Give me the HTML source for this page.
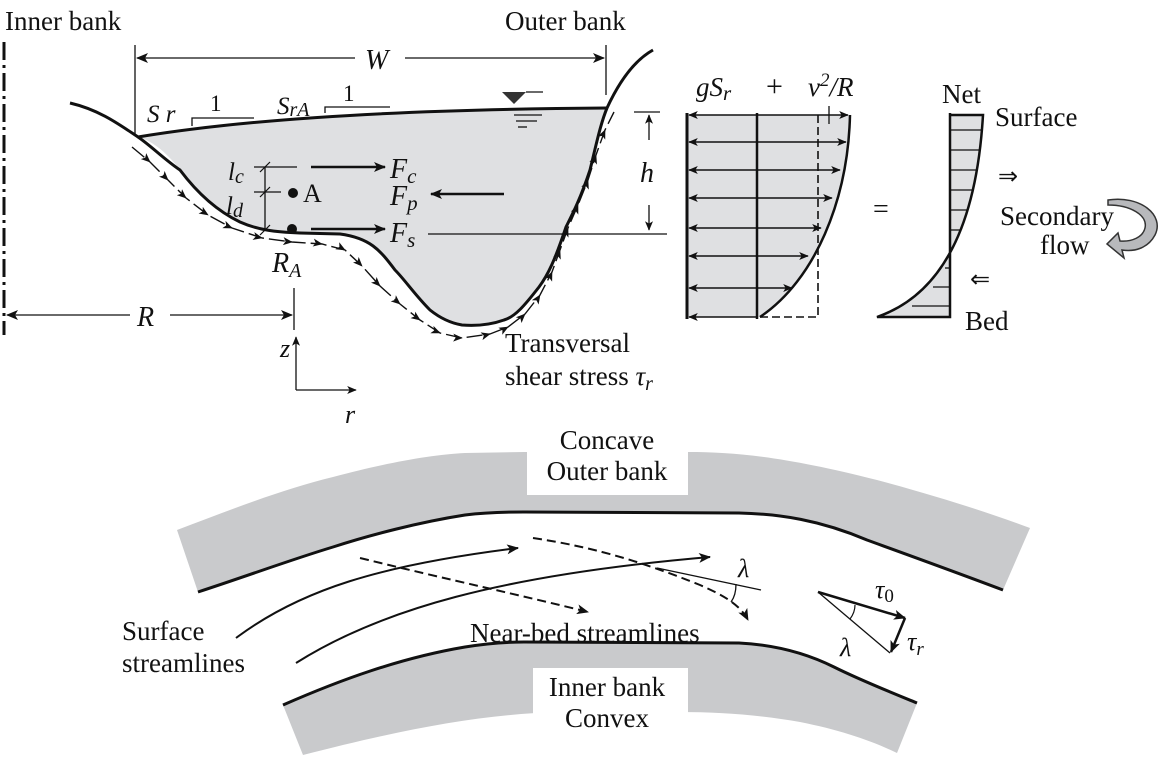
<!DOCTYPE html>
<html><head><meta charset="utf-8"><style>
html,body{margin:0;padding:0;background:#fff}
svg{display:block}
text{font-family:"Liberation Serif",serif;fill:#111}
.i{font-style:italic}
</style></head><body>
<svg width="1165" height="757" viewBox="0 0 1165 757" xmlns="http://www.w3.org/2000/svg">
<defs>
<marker id="ah" viewBox="0 0 12 10" refX="11" refY="5" markerWidth="12" markerHeight="10" markerUnits="userSpaceOnUse" orient="auto"><path d="M0,0 L12,5 L0,10 L3,5 Z" fill="#111"/></marker>
<marker id="as" viewBox="0 0 12 10" refX="11" refY="5" markerWidth="10" markerHeight="8" markerUnits="userSpaceOnUse" orient="auto"><path d="M0,0 L12,5 L0,10 L3,5 Z" fill="#111"/></marker>
</defs>

<line x1="4" y1="42" x2="4" y2="335" stroke="#111" stroke-width="3" stroke-dasharray="18 5 3 5"/>

<text x="5" y="30" font-size="27">Inner bank</text>
<text x="505" y="30" font-size="27">Outer bank</text>

<line x1="135" y1="45" x2="135" y2="135" stroke="#111" stroke-width="1.3"/>
<line x1="606" y1="45" x2="606" y2="95" stroke="#111" stroke-width="1.3"/>
<line x1="355" y1="58" x2="137" y2="58" stroke="#111" stroke-width="1.3" marker-end="url(#ah)"/>
<line x1="405" y1="58" x2="604" y2="58" stroke="#111" stroke-width="1.3" marker-end="url(#ah)"/>
<text x="365" y="69" font-size="28" class="i">W</text>

<path d="M138,137 Q300,110 607,108 C600,125 595,150 590,170 C580,200 572,215 566,227 C555,260 548,275 539,287 C525,305 515,317 504,320 C490,325 475,326 462,325 C450,323 440,318 430,310 C415,295 405,280 395,270 C380,250 370,238 340,234 L300,233 C275,232 258,230 240,222 C215,210 195,190 180,170 C165,150 150,140 138,137 Z" fill="#dfe0e2"/>
<path d="M70,103 C100,110 120,125 138,137 C150,145 165,160 180,170 C195,190 215,210 240,222 C258,230 275,232 300,233 L340,234 C370,238 380,250 395,270 C405,280 415,295 430,310 C440,318 450,323 462,325 C475,326 490,325 504,320 C515,317 525,305 539,287 C548,275 555,260 566,227 C572,215 580,200 590,170 C595,150 600,125 607,108 C620,80 635,60 653,50" fill="none" stroke="#111" stroke-width="3"/>
<path d="M138,137 Q300,110 607,108" fill="none" stroke="#111" stroke-width="3"/>
<polyline points="132,147 150,162 168,180 186,198 208,215 232,228 262,238 292,242 322,244 345,250 362,266 380,286 400,304 420,320 440,333 462,338 490,334 508,327 525,314 540,295 552,272 560,250 568,228 578,205 588,180 596,155 605,130 614,112" fill="none" stroke="#111" stroke-width="1.4" stroke-dasharray="16 5" marker-mid="url(#as)"/>

<text x="147" y="122" font-size="25" class="i">S r</text>
<polyline points="192,126 192,118 254,118" fill="none" stroke="#111" stroke-width="1.3"/>
<text x="210" y="111" font-size="23">1</text>
<text x="277" y="114" font-size="25" class="i">S<tspan font-size="20" dy="2">rA</tspan></text>
<polyline points="325,113 325,107 390,107" fill="none" stroke="#111" stroke-width="1.3"/>
<text x="343" y="101" font-size="23">1</text>
<path d="M502,92 L526,92 L514,104 Z" fill="#333"/>
<line x1="526" y1="92" x2="543" y2="92" stroke="#111" stroke-width="1.3"/>
<line x1="514" y1="115" x2="542" y2="115" stroke="#111" stroke-width="1.3"/>
<line x1="516" y1="121" x2="537" y2="121" stroke="#111" stroke-width="1.3"/>
<line x1="518" y1="127" x2="527" y2="127" stroke="#111" stroke-width="1.3"/>

<line x1="254" y1="167" x2="297" y2="167" stroke="#111" stroke-width="1.3"/>
<line x1="254" y1="192" x2="281" y2="192" stroke="#111" stroke-width="1.3"/>
<line x1="265" y1="167" x2="265" y2="230" stroke="#111" stroke-width="1.3"/>
<line x1="260" y1="172" x2="270" y2="162" stroke="#111" stroke-width="1.2"/>
<line x1="260" y1="197" x2="270" y2="187" stroke="#111" stroke-width="1.2"/>
<line x1="260" y1="235" x2="270" y2="225" stroke="#111" stroke-width="1.2"/>
<text x="228" y="180" font-size="25" class="i">l<tspan font-size="20" dy="3">c</tspan></text>
<text x="226" y="214" font-size="25" class="i">l<tspan font-size="20" dy="3">d</tspan></text>
<circle cx="293" cy="193" r="5" fill="#111"/>
<text x="303" y="202" font-size="26">A</text>
<circle cx="292" cy="229" r="5" fill="#111"/>
<line x1="311" y1="167" x2="385" y2="167" stroke="#111" stroke-width="2.5" marker-end="url(#ah)"/>
<line x1="504" y1="194" x2="431" y2="194" stroke="#111" stroke-width="2.5" marker-end="url(#ah)"/>
<line x1="311" y1="229" x2="385" y2="229" stroke="#111" stroke-width="2.5" marker-end="url(#ah)"/>
<text x="390" y="178" font-size="28" class="i">F<tspan font-size="21" dy="5">c</tspan></text>
<text x="390" y="205" font-size="28" class="i">F<tspan font-size="21" dy="5">p</tspan></text>
<text x="390" y="242" font-size="28" class="i">F<tspan font-size="21" dy="5">s</tspan></text>
<text x="272" y="272" font-size="28" class="i">R<tspan font-size="20" dy="5">A</tspan></text>

<line x1="428" y1="234" x2="667" y2="234" stroke="#111" stroke-width="1.3"/>
<line x1="634" y1="112" x2="660" y2="112" stroke="#111" stroke-width="1.3"/>
<line x1="649" y1="140" x2="649" y2="115" stroke="#111" stroke-width="1.3" marker-end="url(#as)"/>
<line x1="649" y1="205" x2="649" y2="230" stroke="#111" stroke-width="1.3" marker-end="url(#as)"/>
<text x="640" y="182" font-size="28" class="i">h</text>

<line x1="294" y1="288" x2="294" y2="330" stroke="#111" stroke-width="1.3"/>
<line x1="130" y1="315" x2="7" y2="315" stroke="#111" stroke-width="1.3" marker-end="url(#ah)"/>
<line x1="170" y1="315" x2="292" y2="315" stroke="#111" stroke-width="1.3" marker-end="url(#ah)"/>
<text x="137" y="326" font-size="28" class="i">R</text>

<text x="280" y="357" font-size="26" class="i">z</text>
<line x1="296" y1="390" x2="296" y2="337" stroke="#111" stroke-width="1.3" marker-end="url(#as)"/>
<line x1="296" y1="390" x2="356" y2="390" stroke="#111" stroke-width="1.3" marker-end="url(#as)"/>
<text x="345" y="423" font-size="26" class="i">r</text>
<text x="505" y="352" font-size="27">Transversal</text>
<text x="505" y="385" font-size="27">shear stress <tspan class="i">τ</tspan><tspan class="i" font-size="20" dy="5">r</tspan></text>

<path d="M687,115 L850,115 C848,200 815,280 760,317 L687,317 Z" fill="#dfe0e2"/>
<line x1="687" y1="113" x2="687" y2="319" stroke="#111" stroke-width="3"/>
<line x1="757" y1="113" x2="757" y2="319" stroke="#111" stroke-width="2.5"/>
<line x1="818" y1="115" x2="818" y2="317" stroke="#111" stroke-width="1.6" stroke-dasharray="8 4"/>
<line x1="760" y1="317" x2="818" y2="317" stroke="#111" stroke-width="1.6" stroke-dasharray="8 4"/>
<path d="M850,115 C848,200 815,280 760,317" fill="none" stroke="#111" stroke-width="2.5"/>
<line x1="829" y1="106" x2="829" y2="124" stroke="#111" stroke-width="1.3"/>
<g stroke="#111" stroke-width="1.5">
<line x1="757" y1="115" x2="689" y2="115" marker-end="url(#as)"/><line x1="757" y1="115" x2="848" y2="115" marker-end="url(#as)"/>
<line x1="757" y1="142" x2="689" y2="142" marker-end="url(#as)"/><line x1="757" y1="142" x2="846" y2="142" marker-end="url(#as)"/>
<line x1="757" y1="170" x2="689" y2="170" marker-end="url(#as)"/><line x1="757" y1="170" x2="840" y2="170" marker-end="url(#as)"/>
<line x1="757" y1="198" x2="689" y2="198" marker-end="url(#as)"/><line x1="757" y1="198" x2="832" y2="198" marker-end="url(#as)"/>
<line x1="757" y1="228" x2="689" y2="228" marker-end="url(#as)"/><line x1="757" y1="228" x2="821" y2="228" marker-end="url(#as)"/>
<line x1="757" y1="256" x2="689" y2="256" marker-end="url(#as)"/><line x1="757" y1="256" x2="808" y2="256" marker-end="url(#as)"/>
<line x1="757" y1="288" x2="689" y2="288" marker-end="url(#as)"/><line x1="757" y1="288" x2="792" y2="288" marker-end="url(#as)"/>
<line x1="757" y1="317" x2="689" y2="317" marker-end="url(#as)"/>
</g>
<text x="696" y="96" font-size="27" class="i">gS<tspan font-size="21" dy="4">r</tspan></text>
<text x="766" y="96" font-size="30">+</text>
<text x="808" y="96" font-size="27" class="i">v<tspan font-size="19" dy="-10">2</tspan><tspan dy="10">/R</tspan></text>
<text x="873" y="218" font-size="28">=</text>

<path d="M950,115 L983,115 C978,200 955,290 877,317 L950,317 Z" fill="#dfe0e2"/>
<g stroke="#111" stroke-width="1.3">
<line x1="950" y1="130" x2="982" y2="130"/><line x1="950" y1="150" x2="980" y2="150"/><line x1="950" y1="170" x2="977" y2="170"/><line x1="950" y1="190" x2="973" y2="190"/><line x1="950" y1="210" x2="967" y2="210"/><line x1="950" y1="230" x2="960" y2="230"/><line x1="945" y1="268" x2="950" y2="268"/><line x1="933" y1="287" x2="950" y2="287"/><line x1="912" y1="306" x2="950" y2="306"/>
</g>
<path d="M950,113 L950,317 L877,317 C955,290 978,200 983,115 L950,115" fill="none" stroke="#111" stroke-width="2.5"/>
<text x="942" y="103" font-size="27">Net</text>
<text x="995" y="126" font-size="27">Surface</text>
<text x="998" y="184" font-size="24">⇒</text>
<text x="1000" y="225" font-size="27">Secondary</text>
<text x="1040" y="254" font-size="27">flow</text>
<text x="970" y="287" font-size="24">⇐</text>
<text x="965" y="330" font-size="27">Bed</text>
<path d="M1108,200 C1140,195 1165,215 1155,235 C1148,248 1135,252 1122,250 L1124,258 L1107,244 L1118,233 L1120,241 C1132,242 1143,237 1145,228 C1148,215 1130,205 1108,205 Z" fill="#b8b9bc" stroke="#333" stroke-width="1.5"/>

<path d="M177,530 C230,510 280,490 333,477 C390,462 430,455 465,453 L524,452 L688,452 C740,452 790,458 877,480 C940,497 990,513 1030,528 L1003,590 C950,570 900,550 867,540 C820,520 780,514 739,513 L524,512 C510,512 490,512 465,515 C420,522 370,535 333,547 C290,560 250,575 198,592 Z" fill="#c9cacc"/>
<path d="M198,592 C250,575 290,560 333,547 C370,535 420,522 465,515 C490,512 510,512 524,512 L739,513 C780,514 820,520 867,540 C900,552 950,570 1003,590" fill="none" stroke="#111" stroke-width="3"/>
<rect x="527" y="420" width="161" height="75" fill="#fff"/>
<text x="607" y="449" font-size="27" text-anchor="middle">Concave</text>
<text x="607" y="480" font-size="27" text-anchor="middle">Outer bank</text>

<path d="M283,705 C340,680 400,658 465,647 C490,643 510,642 524,642 L739,643 C780,645 810,655 834,667 C860,680 890,692 917,703 L897,753 C870,740 840,730 800,722 C760,715 720,712 680,712 L560,712 C480,714 400,730 303,755 Z" fill="#c9cacc"/>
<path d="M283,705 C340,680 400,658 465,647 C490,643 510,642 524,642 L739,643 C780,645 810,655 834,667 C860,680 890,692 917,703" fill="none" stroke="#111" stroke-width="3"/>
<rect x="533" y="668" width="155" height="89" fill="#fff"/>
<text x="607" y="696" font-size="27" text-anchor="middle">Inner bank</text>
<text x="607" y="727" font-size="27" text-anchor="middle">Convex</text>

<path d="M236,638 C300,590 380,565 518,548" fill="none" stroke="#111" stroke-width="2" marker-end="url(#ah)"/>
<path d="M296,663 C380,610 500,575 710,557" fill="none" stroke="#111" stroke-width="2" marker-end="url(#ah)"/>
<path d="M360,558 C450,580 520,595 588,612" fill="none" stroke="#111" stroke-width="2" stroke-dasharray="9 5" marker-end="url(#ah)"/>
<path d="M533,538 C600,548 650,565 700,585 C725,596 740,605 748,620" fill="none" stroke="#111" stroke-width="2" stroke-dasharray="9 5" marker-end="url(#ah)"/>
<line x1="657" y1="568" x2="761" y2="590" stroke="#111" stroke-width="1.4"/>
<path d="M736,584 C736,592 734,598 731,602" fill="none" stroke="#111" stroke-width="1.3"/>
<text x="738" y="577" font-size="26" class="i">λ</text>
<text x="122" y="640" font-size="27">Surface</text>
<text x="122" y="672" font-size="27">streamlines</text>
<text x="470" y="642" font-size="27">Near-bed streamlines</text>

<line x1="818" y1="592" x2="890" y2="653" stroke="#111" stroke-width="1.3"/>
<line x1="818" y1="592" x2="905" y2="618" stroke="#111" stroke-width="2.5" marker-end="url(#ah)"/>
<line x1="905" y1="618" x2="891" y2="652" stroke="#111" stroke-width="2.5" marker-end="url(#ah)"/>
<path d="M855,605 C855,610 853,615 850,619" fill="none" stroke="#111" stroke-width="1.2"/>
<text x="875" y="598" font-size="26" class="i">τ<tspan font-size="19" dy="4" font-style="normal">0</tspan></text>
<text x="840" y="656" font-size="26" class="i">λ</text>
<text x="907" y="650" font-size="26" class="i">τ<tspan font-size="19" dy="5">r</tspan></text>
</svg>
</body></html>
